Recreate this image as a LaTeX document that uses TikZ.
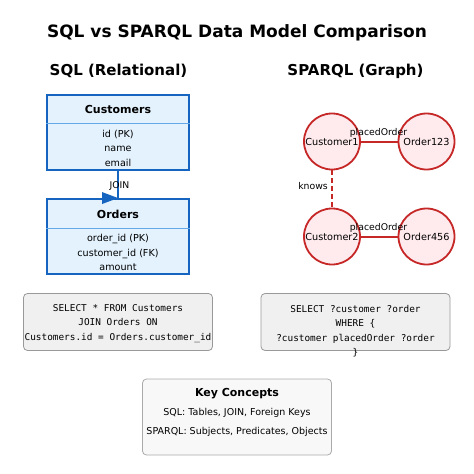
\documentclass[tikz,border=0pt]{standalone}
\usepackage{fontspec}
\setmainfont{DejaVu Sans}
\setmonofont{DejaVu Sans Mono}
\usepackage{tikz}
\usetikzlibrary{arrows}

\definecolor{tblue}{HTML}{1565C0}
\definecolor{tfill}{HTML}{E3F2FD}
\definecolor{tline}{HTML}{64A8E8}
\definecolor{gred}{HTML}{C62828}
\definecolor{gfill}{HTML}{FFEBEE}
\definecolor{cfill}{HTML}{F0F0F0}
\definecolor{cdraw}{HTML}{999999}
\definecolor{kfill}{HTML}{F8F8F8}
\definecolor{kdraw}{HTML}{AAAAAA}

\begin{document}
\begin{tikzpicture}[x=1pt,y=-1pt,
    heading/.style={font=\bfseries\fontsize{15}{16}\selectfont},
    table/.style={draw=tblue, fill=tfill, line width=1.9pt, minimum width=142pt, minimum height=75pt},
    head/.style={font=\bfseries\fontsize{11}{12}\selectfont},
    fields/.style={align=center, font=\fontsize{9.6}{14.5}\selectfont},
    divider/.style={draw=tline, line width=1pt},
    res/.style={circle, draw=gred, fill=gfill, line width=1.8pt, minimum size=56pt, inner sep=0pt, font=\fontsize{9.7}{11}\selectfont},
    pred/.style={draw=gred, line width=2pt},
    elabel/.style={font=\fontsize{9.3}{10}\selectfont},
    code/.style={draw=cdraw, fill=cfill, rounded corners=4pt, line width=0.8pt, minimum width=189pt, minimum height=57pt},
    codetext/.style={align=center, font=\ttfamily\fontsize{9.4}{14.4}\selectfont},
    keybox/.style={draw=kdraw, fill=kfill, rounded corners=4pt, line width=0.8pt, minimum width=189pt, minimum height=76pt}]
    \fill[white] (0,0) rectangle (474,474);
    \useasboundingbox (0,0) rectangle (474,474);

    \node[font=\bfseries\fontsize{17}{18}\selectfont] (title) at (237,33) {SQL vs SPARQL Data Model Comparison};
    \node[heading] (sqlhead) at (118.5,71) {SQL (Relational)};
    \node[heading] (sparqlhead) at (355.5,71) {SPARQL (Graph)};

    \node[table] (cust) at (118,132.5) {};
    \node[head] (custh) at (118,109) {Customers};
    \path[divider] (cust.west |- 0,123) -- (cust.east |- 0,123);
    \node[fields] (custf) at (118,148) {id (PK)\\name\\email};

    \node[table] (ord) at (118,236.5) {};
    \node[head] (ordh) at (118,214) {Orders};
    \path[divider] (ord.west |- 0,228) -- (ord.east |- 0,228);
    \node[fields] (ordf) at (118,252.5) {order\_id (PK)\\customer\_id (FK)\\amount};

    \draw[tblue, line width=1.9pt] (cust.south) -- (ord.north);
    \fill[tblue] (ord.north) -- ++(-16,-6) -- ++(0,12) -- cycle;
    \node[elabel] (join) at (119.5,186) {JOIN};

    \node[res] (c1) at (332,141.5) {Customer1};
    \node[res] (o123) at (426.5,141.5) {Order123};
    \node[res] (c2) at (332,236.5) {Customer2};
    \node[res] (o456) at (426.5,236.5) {Order456};
    \path[pred] (c1) -- (o123);
    \path[pred] (c2) -- (o456);
    \path[pred, dash pattern=on 5pt off 3pt] (c1) -- (c2);
    \node[elabel] (p1) at (378.5,133) {placedOrder};
    \node[elabel] (p2) at (378.5,228) {placedOrder};
    \node[elabel] (kn) at (313,186.5) {knows};

    \node[code] (sqlq) at (118,322) {};
    \node[codetext] (sqlt) at (118,323.5) {SELECT * FROM Customers\\JOIN Orders ON\\Customers.id = Orders.customer\_id};
    \node[code] (sparqlq) at (355.5,322) {};
    \node[codetext] (sparqlt) at (355.5,331) {SELECT ?customer ?order\\WHERE \{\\?customer placedOrder ?order\\\}};

    \node[keybox] (key) at (237,417) {};
    \node[head] (keyh) at (237,394) {Key Concepts};
    \node[fields, font=\fontsize{9.5}{19}\selectfont] (keyt) at (237,422.5) {SQL: Tables, JOIN, Foreign Keys\\SPARQL: Subjects, Predicates, Objects};
\end{tikzpicture}
\end{document}
